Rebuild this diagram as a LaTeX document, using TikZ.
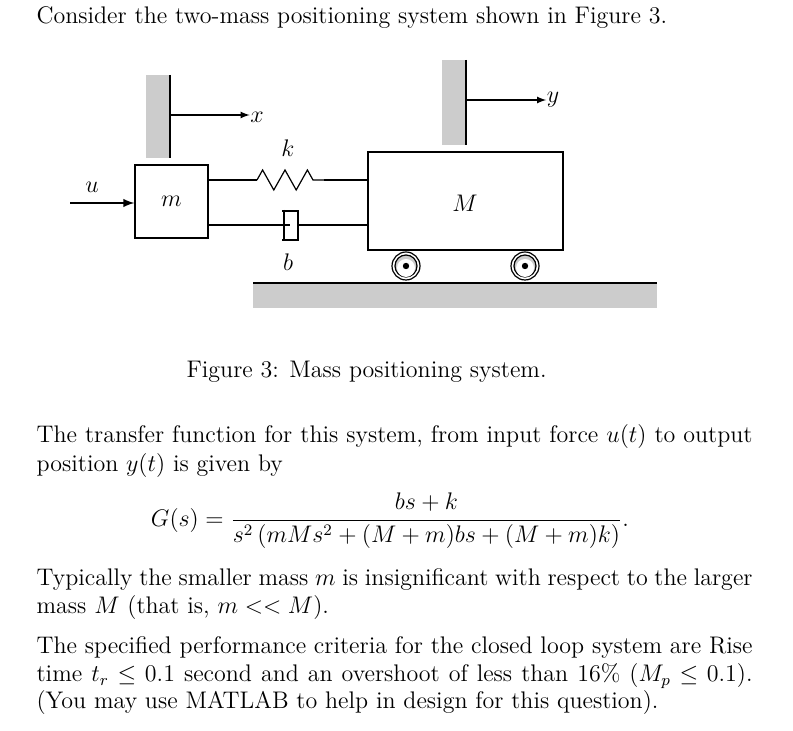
\documentclass[tikz,border=0pt,12pt]{standalone}
\usepackage{amsmath}
\usetikzlibrary{arrows, positioning, decorations.pathmorphing}
\definecolor{wallgray}{rgb}{0.8, 0.8, 0.8}

\begin{document}
\begin{tikzpicture}[x=0.5pt, y=-0.5pt, line width=0.6pt,
    txt/.style={anchor=base west, inner sep=0pt},
    lbl/.style={inner sep=0pt},
    arr/.style={-latex}]
    % Page frame
    \useasboundingbox (0,0) rectangle (793,731);

    \node[txt] (intro) at (36, 24) {Consider the two-mass positioning system shown in Figure 3.};

    % Walls with position markers
    \fill[wallgray] (146, 75) rectangle (170, 158);
    \fill[wallgray] (442, 60) rectangle (466, 145);
    \draw (170, 75) -- (170, 158);
    \draw (466, 60) -- (466, 145);
    \coordinate (xs) at (170, 115);
    \coordinate (ys) at (466, 100);
    \node[lbl] (x) at (257, 117) {$x$};
    \node[lbl] (y) at (553, 100) {$y$};
    \draw[arr] (xs) -- (xs -| x.west);
    \draw[arr] (ys) -- (ys -| y.west);

    % Masses
    \node[draw, minimum width=36.5pt, minimum height=36.5pt, inner sep=0pt] (m) at (171.5, 201.5) {$m$};
    \node[draw, minimum width=97.5pt, minimum height=49pt, inner sep=0pt] (M) at (465.5, 201) {};
    \node[lbl] (Mlbl) at (465, 203) {$M$};

    % Input force
    \coordinate (us) at (70, 203);
    \node[lbl] (u) at (92, 187) {$u$};
    \draw[arr, line width=0.9pt] (us) -- (m.west |- us);

    % Spring
    \coordinate (k1) at (257, 180);
    \coordinate (k2) at (324, 180);
    \draw (m.east |- k1) -- (k1);
    \draw[decorate, decoration={zigzag, segment length=11.2, amplitude=5}] (k1) -- (k2);
    \draw (k2) -- (M.west |- k2);
    \node[lbl] (k) at (288, 148) {$k$};

    % Damper
    \coordinate (b1) at (290, 225);
    \draw (m.east |- b1) -- (b1);
    \draw (282, 211) -- (298, 211) -- (298, 240) -- (282, 240);
    \draw[line width=1.2pt] (284, 210) -- (284, 241);
    \draw (298, 225) -- (M.west |- b1);
    \node[lbl] (b) at (288, 262) {$b$};

    % Wheels
    \foreach \cx in {406, 525} {
      \draw[fill=white] (\cx, 266) circle (7pt);
      \draw[fill=wallgray] (\cx, 266) circle (5.5pt);
      \fill[white] (\cx, 268) circle (4.5pt);
      \fill (\cx, 266) circle (1.6pt);
    }

    % Ground
    \fill[wallgray] (253, 283) rectangle (657, 308);
    \draw[line width=0.9pt] (253, 283) -- (657, 283);

    \node[txt] (cap) at (186, 378) {Figure 3: Mass positioning system.};

    % Body text
    \node[txt] (p1) at (36, 443) {\hbox to 358pt{The transfer function for this system, from input force $u(t)$ to output}};
    \node[txt] (p2) at (36, 472) {position $y(t)$ is given by};
    \node (eq) at (390, 521) {$\displaystyle G(s)=\frac{bs+k}{s^2\left(mMs^2+(M+m)bs+(M+m)k\right)}.$};
    \node[txt] (p3) at (36, 586) {\hbox to 358pt{Typically the smaller mass $m$ is insignificant with respect to the larger}};
    \node[txt] (p4) at (36, 614) {mass $M$ (that is, $m<<M$).};
    \node[txt] (p5) at (36, 654) {\hbox to 358pt{The specified performance criteria for the closed loop system are Rise}};
    \node[txt] (p6) at (36, 682) {\hbox to 358pt{time $t_r\leq 0.1$ second and an overshoot of less than 16\% ($M_p\leq 0.1$).}};
    \node[txt] (p7) at (36, 709) {(You may use MATLAB to help in design for this question).};
\end{tikzpicture}
\end{document}
